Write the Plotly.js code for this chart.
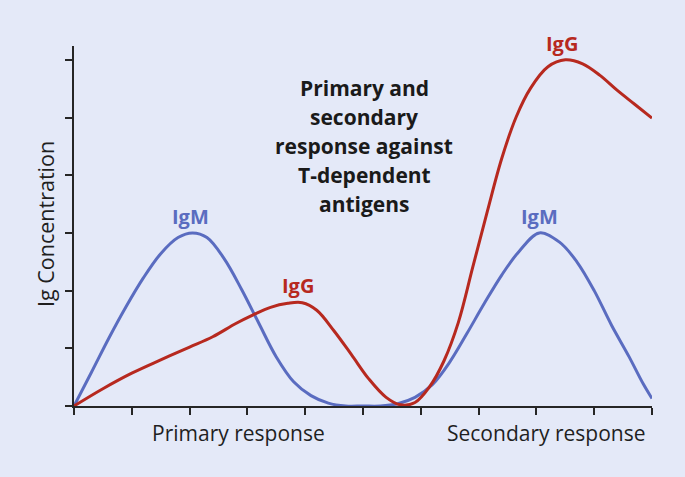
<!DOCTYPE html>
<html>
<head>
<meta charset="utf-8">
<script src="https://cdn.plot.ly/plotly-3.0.1.min.js"></script>
<style>html,body{margin:0;padding:0;background:#e4e9f8;}#chart{width:685px;height:477px;}</style>
</head>
<body>
<div id="chart"></div>
<script>
// IgM (blue) curve: time units vs concentration
const igmX = [0, 0.3, 0.6, 0.9, 1.2, 1.5, 1.8, 2.05, 2.3, 2.6, 2.9, 3.2, 3.5, 3.8, 4.1, 4.4, 4.7, 5.0, 5.3, 5.6, 5.9, 6.2, 6.5, 6.8, 7.1, 7.4, 7.7, 8.05, 8.4, 8.7, 9.0, 9.3, 9.6, 9.85, 10.0];
const igmY = [0, 0.58, 1.17, 1.72, 2.22, 2.64, 2.92, 3.00, 2.92, 2.55, 2.02, 1.43, 0.85, 0.42, 0.18, 0.05, 0.0, 0.0, 0.0, 0.04, 0.15, 0.37, 0.76, 1.26, 1.78, 2.27, 2.68, 3.00, 2.84, 2.50, 2.00, 1.40, 0.86, 0.38, 0.13];
// IgG (red) curve
const iggX = [0, 0.5, 1.0, 1.5, 2.0, 2.4, 2.8, 3.1, 3.4, 3.7, 3.95, 4.2, 4.5, 4.8, 5.1, 5.4, 5.65, 5.9, 6.15, 6.4, 6.65, 6.9, 7.15, 7.4, 7.65, 7.9, 8.2, 8.5, 8.8, 9.1, 9.4, 9.7, 10.0];
const iggY = [0, 0.30, 0.57, 0.80, 1.02, 1.20, 1.43, 1.58, 1.71, 1.78, 1.79, 1.66, 1.30, 0.89, 0.47, 0.15, 0.02, 0.06, 0.33, 0.78, 1.45, 2.41, 3.37, 4.29, 5.01, 5.51, 5.88, 6.00, 5.93, 5.73, 5.47, 5.23, 4.99];
// Curve labels
const labelText = ["IgM", "IgG", "IgM", "IgG"];
const labelX = [2.01, 3.88, 8.06, 8.45];
const labelY = [3.0, 1.80, 3.0, 6.0];
const labelSeries = ["m", "g", "m", "g"];
// Axis category labels
const phaseText = ["Primary response", "Secondary response"];
const phaseX = [2.84, 8.18];
const titleLines = ["Primary and", "secondary", "response against", "T-dependent", "antigens"];
const yTitle = "Ig Concentration";

const blue = "#5a6cc0";
const red = "#b7291f";
const bg = "#e4e9f8";
const font = "'Open Sans', 'Noto Sans', sans-serif";

const plotL = 74, plotR = 652, plotT = 46, plotB = 406;
const px2paperX = p => (p - plotL) / (plotR - plotL);
const px2paperY = p => (plotB - p) / (plotB - plotT);

const traces = [
  {x: igmX, y: igmY, mode: "lines", line: {color: blue, width: 3, shape: "spline", smoothing: 1}, hoverinfo: "skip"},
  {x: iggX, y: iggY, mode: "lines", line: {color: red, width: 3, shape: "spline", smoothing: 1}, hoverinfo: "skip"}
];

const annotations = [];
labelText.forEach((t, i) => {
  annotations.push({
    x: labelX[i], y: labelY[i], xref: "x", yref: "y", text: "<b>" + t + "</b>",
    showarrow: false, yanchor: "bottom", yshift: 1,
    font: {family: font, size: 20, color: labelSeries[i] === "m" ? blue : red}
  });
});
phaseText.forEach((t, i) => {
  annotations.push({
    x: phaseX[i], y: 0, xref: "x", yref: "y", text: t,
    showarrow: false, yanchor: "middle", yshift: -27,
    font: {family: font, size: 21, color: "#1f1f1f"}
  });
});
const titleCenters = [88, 117, 146, 175, 204];
titleLines.forEach((t, i) => {
  annotations.push({
    x: px2paperX(364), y: px2paperY(titleCenters[i]), xref: "paper", yref: "paper",
    text: "<b>" + t + "</b>", showarrow: false, xanchor: "center", yanchor: "middle",
    font: {family: font, size: 21, color: "#1a1a1a"}
  });
});
annotations.push({
  x: px2paperX(45), y: px2paperY(224), xref: "paper", yref: "paper", text: yTitle,
  textangle: -90, showarrow: false, xanchor: "center", yanchor: "middle",
  font: {family: font, size: 21.5, color: "#1f1f1f"}
});

const layout = {
  width: 685, height: 477,
  margin: {l: plotL, r: 685 - plotR, t: plotT, b: 477 - plotB, pad: 0},
  paper_bgcolor: bg, plot_bgcolor: bg,
  showlegend: false,
  xaxis: {
    range: [0, 10], showgrid: false, zeroline: false, showline: true, linecolor: "#262626", linewidth: 2,
    ticks: "outside", tick0: 0, dtick: 1, ticklen: 7, tickwidth: 2, tickcolor: "#262626", showticklabels: false, fixedrange: true
  },
  yaxis: {
    range: [0, 6.24], showgrid: false, zeroline: false, showline: true, linecolor: "#262626", linewidth: 2,
    ticks: "outside", tick0: 0, dtick: 1, ticklen: 7, tickwidth: 2, tickcolor: "#262626", showticklabels: false, fixedrange: true
  },
  annotations: annotations
};

Plotly.newPlot("chart", traces, layout, {displayModeBar: false, staticPlot: true});
</script>
</body>
</html>
